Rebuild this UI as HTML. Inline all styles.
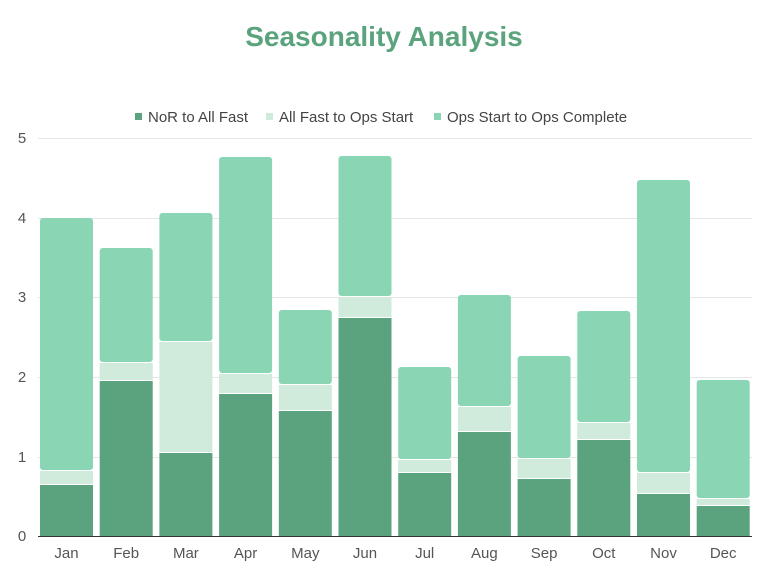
<!DOCTYPE html>
<html><head><style>
body{margin:0;background:#fff;}
svg{display:block;font-family:"Liberation Sans",sans-serif;}
</style></head><body>
<svg width="768" height="579" xmlns="http://www.w3.org/2000/svg">
<text x="384" y="46" text-anchor="middle" font-size="28" font-weight="bold" fill="#5aa37d">Seasonality Analysis</text>
<g font-size="15" fill="#444">
<rect x="135" y="113" width="7" height="7" fill="#5ba37f"/><text x="148" y="122">NoR to All Fast</text>
<rect x="266" y="113" width="7" height="7" fill="#d0eadc"/><text x="279" y="122">All Fast to Ops Start</text>
<rect x="434" y="113" width="7" height="7" fill="#8ad5b4"/><text x="447" y="122">Ops Start to Ops Complete</text>
</g>
<g stroke="#e6e6e6" stroke-width="1">
<line x1="38" x2="752" y1="138.5" y2="138.5"/><line x1="38" x2="752" y1="218.5" y2="218.5"/>
<line x1="38" x2="752" y1="297.5" y2="297.5"/><line x1="38" x2="752" y1="377.5" y2="377.5"/>
<line x1="38" x2="752" y1="457.5" y2="457.5"/>
</g>
<g font-size="15" fill="#555" text-anchor="middle">
<text x="22" y="143">5</text><text x="22" y="223">4</text><text x="22" y="302">3</text>
<text x="22" y="382">2</text><text x="22" y="462">1</text><text x="22" y="541">0</text>
</g>
<g>
<rect x="40" y="218" width="53" height="252" rx="3" fill="#8ad5b4"/><rect x="40" y="471" width="53" height="13" fill="#d0eadc"/><rect x="40" y="485" width="53" height="51" fill="#5ba37f"/>
<rect x="99.7" y="248" width="53" height="114" rx="3" fill="#8ad5b4"/><rect x="99.7" y="363" width="53" height="17" fill="#d0eadc"/><rect x="99.7" y="381" width="53" height="155" fill="#5ba37f"/>
<rect x="159.4" y="213" width="53" height="128" rx="3" fill="#8ad5b4"/><rect x="159.4" y="342" width="53" height="110" fill="#d0eadc"/><rect x="159.4" y="453" width="53" height="83" fill="#5ba37f"/>
<rect x="219.1" y="157" width="53" height="216" rx="3" fill="#8ad5b4"/><rect x="219.1" y="374" width="53" height="19" fill="#d0eadc"/><rect x="219.1" y="394" width="53" height="142" fill="#5ba37f"/>
<rect x="278.8" y="310" width="53" height="74" rx="3" fill="#8ad5b4"/><rect x="278.8" y="385" width="53" height="25" fill="#d0eadc"/><rect x="278.8" y="411" width="53" height="125" fill="#5ba37f"/>
<rect x="338.5" y="156" width="53" height="140" rx="3" fill="#8ad5b4"/><rect x="338.5" y="297" width="53" height="20" fill="#d0eadc"/><rect x="338.5" y="318" width="53" height="218" fill="#5ba37f"/>
<rect x="398.2" y="367" width="53" height="92" rx="3" fill="#8ad5b4"/><rect x="398.2" y="460" width="53" height="12" fill="#d0eadc"/><rect x="398.2" y="473" width="53" height="63" fill="#5ba37f"/>
<rect x="457.9" y="295" width="53" height="111" rx="3" fill="#8ad5b4"/><rect x="457.9" y="407" width="53" height="24" fill="#d0eadc"/><rect x="457.9" y="432" width="53" height="104" fill="#5ba37f"/>
<rect x="517.6" y="356" width="53" height="102" rx="3" fill="#8ad5b4"/><rect x="517.6" y="459" width="53" height="19" fill="#d0eadc"/><rect x="517.6" y="479" width="53" height="57" fill="#5ba37f"/>
<rect x="577.3" y="311" width="53" height="111" rx="3" fill="#8ad5b4"/><rect x="577.3" y="423" width="53" height="16" fill="#d0eadc"/><rect x="577.3" y="440" width="53" height="96" fill="#5ba37f"/>
<rect x="637" y="180" width="53" height="292" rx="3" fill="#8ad5b4"/><rect x="637" y="473" width="53" height="20" fill="#d0eadc"/><rect x="637" y="494" width="53" height="42" fill="#5ba37f"/>
<rect x="696.7" y="380" width="53" height="118" rx="3" fill="#8ad5b4"/><rect x="696.7" y="499" width="53" height="6" fill="#d0eadc"/><rect x="696.7" y="506" width="53" height="30" fill="#5ba37f"/>
</g>
<line x1="38" x2="752" y1="536.5" y2="536.5" stroke="#333" stroke-width="1"/>
<g font-size="15" fill="#555" text-anchor="middle">
<text x="66.5" y="558">Jan</text><text x="126.2" y="558">Feb</text><text x="185.9" y="558">Mar</text>
<text x="245.6" y="558">Apr</text><text x="305.3" y="558">May</text><text x="365" y="558">Jun</text>
<text x="424.7" y="558">Jul</text><text x="484.4" y="558">Aug</text><text x="544.1" y="558">Sep</text>
<text x="603.8" y="558">Oct</text><text x="663.5" y="558">Nov</text><text x="723.2" y="558">Dec</text>
</g>
</svg>
</body></html>
